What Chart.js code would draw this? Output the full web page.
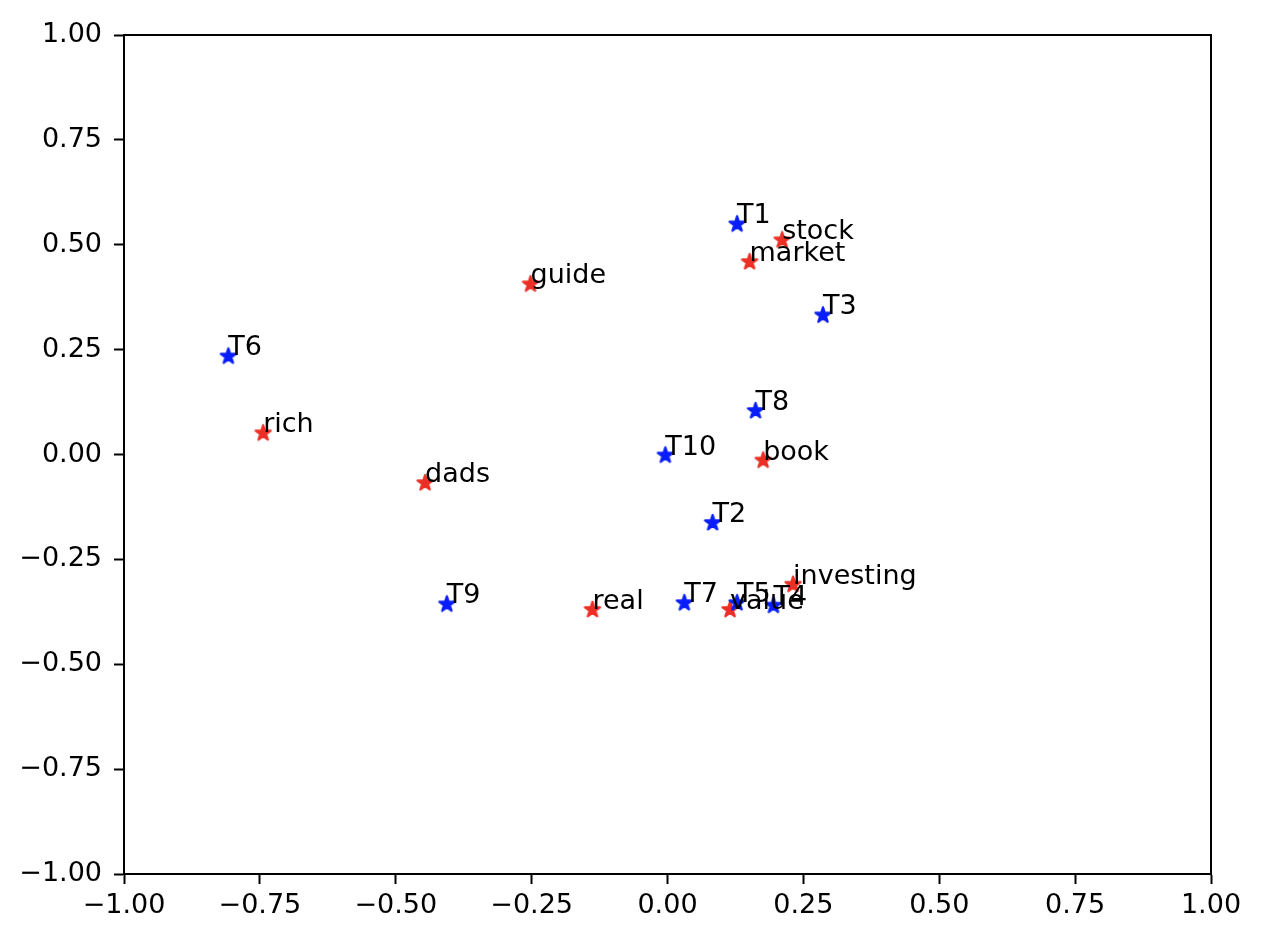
<!DOCTYPE html>
<html>
<head>
<meta charset="utf-8">
<script src="https://cdn.jsdelivr.net/npm/chart.js@4.4.1/dist/chart.umd.min.js"></script>
<style>
  html, body { margin: 0; padding: 0; background: #fff; }
  #wrap { width: 1264px; height: 944px; }
</style>
</head>
<body>
<div id="wrap"><canvas id="plot"></canvas></div>
<script>
// topic points (blue)
const topicLabels = ['T1', 'T2', 'T3', 'T4', 'T5', 'T6', 'T7', 'T8', 'T9', 'T10'];
const topicX = [0.128, 0.083, 0.286, 0.195, 0.128, -0.808, 0.031, 0.162, -0.406, -0.004];
const topicY = [0.551, -0.161, 0.334, -0.358, -0.352, 0.236, -0.352, 0.106, -0.355, 0.000];

// word points (red)
const wordLabels = ['stock', 'market', 'guide', 'rich', 'dads', 'book', 'investing', 'real', 'value'];
const wordX = [0.211, 0.151, -0.252, -0.744, -0.446, 0.176, 0.231, -0.138, 0.115];
const wordY = [0.513, 0.461, 0.408, 0.053, -0.066, -0.012, -0.308, -0.368, -0.368];

// axis ticks
const xTicks = [-1.00, -0.75, -0.50, -0.25, 0.00, 0.25, 0.50, 0.75, 1.00];
const yTicks = [-1.00, -0.75, -0.50, -0.25, 0.00, 0.25, 0.50, 0.75, 1.00];

const FONT = "'DejaVu Sans', sans-serif";

// filled five point star like matplotlib's '*' marker (with edge)
function makeStar(color) {
    const size = 22;
    const c = document.createElement('canvas');
    c.width = size;
    c.height = size;
    const g = c.getContext('2d');
    const R = 8.0, r = R * 0.382;
    const cx = size / 2, cy = size / 2 + 0.8;
    g.beginPath();
    for (let i = 0; i < 10; i++) {
        const rad = i % 2 === 0 ? R : r;
        const a = -Math.PI / 2 + i * Math.PI / 5;
        const px = cx + rad * Math.cos(a);
        const py = cy + rad * Math.sin(a);
        if (i === 0) g.moveTo(px, py); else g.lineTo(px, py);
    }
    g.closePath();
    g.fillStyle = color;
    g.fill();
    g.lineWidth = 2.2;
    g.lineJoin = 'round';
    g.strokeStyle = color;
    g.stroke();
    return c;
}

const BLUE = 'rgb(10, 30, 250)';
const RED = 'rgb(236, 48, 38)';

const topicPoints = topicX.map((x, i) => ({ x: x, y: topicY[i], label: topicLabels[i] }));
const wordPoints = wordX.map((x, i) => ({ x: x, y: wordY[i], label: wordLabels[i] }));

function fmt(v) {
    return v.toFixed(2).replace('-', '\u2212');
}

// frame on all four sides + point annotations
const framePlugin = {
    id: 'frame',
    afterDatasetsDraw(chart) {
        const ctx = chart.ctx;
        const xs = chart.scales.x, ys = chart.scales.y;
        ctx.save();
        ctx.font = '27px ' + FONT;
        ctx.fillStyle = '#000';
        ctx.textAlign = 'left';
        ctx.textBaseline = 'alphabetic';
        chart.data.datasets.forEach(ds => {
            ds.data.forEach(p => {
                ctx.fillText(p.label, xs.getPixelForValue(p.x), ys.getPixelForValue(p.y));
            });
        });
        const a = chart.chartArea;
        ctx.strokeStyle = '#000';
        ctx.lineWidth = 2;
        ctx.strokeRect(a.left, a.top, a.right - a.left, a.bottom - a.top);
        ctx.restore();
    }
};

const ctx = document.getElementById('plot').getContext('2d');
const chart = new Chart(ctx, {
    type: 'scatter',
    data: {
        datasets: [{
            label: 'topics',
            data: topicPoints,
            pointStyle: makeStar(BLUE),
            backgroundColor: BLUE,
            borderColor: BLUE
        }, {
            label: 'words',
            data: wordPoints,
            pointStyle: makeStar(RED),
            backgroundColor: RED,
            borderColor: RED
        }]
    },
    plugins: [framePlugin],
    options: {
        responsive: true,
        maintainAspectRatio: false,
        animation: false,
        layout: {
            padding: { left: 0, top: 35, right: 53, bottom: 0 }
        },
        plugins: {
            legend: { display: false },
            tooltip: { enabled: false }
        },
        scales: {
            x: {
                type: 'linear',
                min: -1,
                max: 1,
                afterBuildTicks: s => { s.ticks = xTicks.map(v => ({ value: v })); },
                afterFit: s => { s.height = 70; },
                grid: {
                    drawOnChartArea: false,
                    drawTicks: true,
                    tickLength: 10,
                    tickWidth: 2,
                    color: '#000'
                },
                border: { display: true, color: '#000', width: 2 },
                ticks: {
                    color: '#000',
                    padding: 6,
                    maxRotation: 0,
                    font: { family: FONT, size: 27 },
                    callback: v => fmt(v)
                }
            },
            y: {
                type: 'linear',
                min: -1,
                max: 1,
                afterBuildTicks: s => { s.ticks = yTicks.map(v => ({ value: v })); },
                afterFit: s => { s.width = 124; },
                grid: {
                    drawOnChartArea: false,
                    drawTicks: true,
                    tickLength: 10,
                    tickWidth: 2,
                    color: '#000'
                },
                border: { display: true, color: '#000', width: 2 },
                ticks: {
                    color: '#000',
                    padding: 12,
                    font: { family: FONT, size: 27 },
                    callback: v => fmt(v)
                }
            }
        }
    }
});
</script>
</body>
</html>
